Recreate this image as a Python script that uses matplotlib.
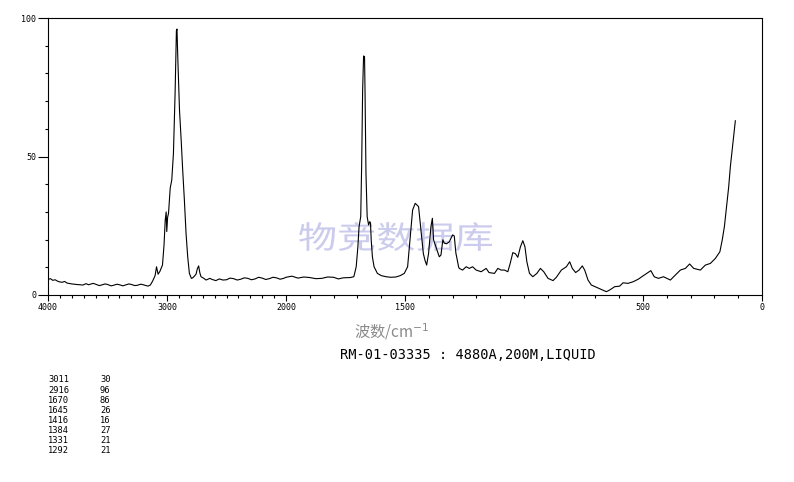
import matplotlib
matplotlib.use("Agg")
import matplotlib.pyplot as plt
import numpy as np
from matplotlib.font_manager import FontProperties
from matplotlib.patches import PathPatch
from matplotlib.textpath import TextPath
from matplotlib.transforms import Affine2D


# Raman spectrum (wavenumber cm-1, relative intensity)
WAVENUMBER = [
    4000, 3980, 3960, 3940, 3920, 3900, 3880, 3860, 3840, 3800, 3760, 3707,
    3680, 3660, 3620, 3600, 3570, 3550, 3520, 3500, 3470, 3450, 3420, 3400,
    3370, 3350, 3320, 3300, 3270, 3250, 3220, 3200, 3160, 3140, 3121, 3100,
    3088, 3075, 3060, 3038, 3025, 3015, 3007, 3002, 2995, 2987, 2973, 2960,
    2946, 2932, 2921, 2916, 2910, 2895, 2881, 2868, 2854, 2840, 2826, 2812,
    2795, 2784, 2770, 2756, 2745, 2734, 2724, 2714, 2690, 2672, 2640, 2620,
    2590, 2560, 2530, 2500, 2470, 2440, 2410, 2380, 2350, 2320, 2290, 2260,
    2230, 2200, 2170, 2140, 2110, 2080, 2050, 2020, 2000, 1975, 1950, 1925,
    1900, 1875, 1850, 1825, 1800, 1780, 1760, 1730, 1715, 1705, 1698, 1693,
    1686, 1682, 1678, 1674, 1670, 1668, 1664, 1659, 1653, 1648, 1645, 1642,
    1637, 1630, 1616, 1600, 1580, 1560, 1538, 1520, 1503, 1489, 1479, 1468,
    1457, 1450, 1443, 1433, 1423, 1416, 1409, 1401, 1391, 1385, 1380, 1370,
    1356, 1349, 1341, 1335, 1325, 1314, 1300, 1293, 1286, 1283, 1275, 1272,
    1258, 1243, 1230, 1216, 1201, 1180, 1159, 1147, 1124, 1110, 1096, 1082,
    1068, 1058, 1047, 1036, 1026, 1015, 1005, 996, 988, 977, 963, 946,
    931, 917, 899, 878, 864, 843, 822, 808, 797, 783, 769, 755,
    745, 731, 717, 696, 675, 654, 640, 619, 598, 584, 563, 541,
    520, 505, 484, 467, 453, 435, 414, 385, 364, 343, 322, 304,
    287, 259, 238, 217, 196, 177, 167, 158, 149, 140, 133, 124,
    116, 112,
]
INTENSITY = [
    5.6, 5.9, 5.3, 5.5, 5.0, 4.7, 4.6, 4.9, 4.3, 4.0, 3.8, 3.6,
    4.1, 3.7, 4.2, 3.9, 3.4, 3.6, 4.0, 3.8, 3.3, 3.5, 3.9, 3.7,
    3.3, 3.6, 4.0, 3.8, 3.4, 3.5, 3.9, 3.7, 3.2, 3.6, 5.0, 7.0,
    10.2, 7.5, 8.5, 10.8, 18.0, 27.0, 30.0, 22.9, 28.0, 29.6, 38.6, 41.5,
    51.0, 72.8, 95.4, 96.0, 86.6, 66.8, 56.0, 45.0, 34.3, 22.3, 13.8, 7.8,
    6.0, 6.2, 6.8, 7.5, 9.5, 10.5, 8.0, 6.6, 6.0, 5.4, 6.0, 5.6,
    5.2, 5.8, 5.4, 5.5, 6.1, 5.9, 5.4, 5.7, 6.2, 6.0, 5.5, 5.8,
    6.4, 6.1, 5.6, 5.9, 6.4, 6.2, 5.7, 6.0, 6.4, 6.8, 6.1, 6.5,
    6.3, 5.9, 6.0, 6.5, 6.4, 5.8, 6.2, 6.3, 6.6, 10.2, 17.4, 24.7,
    28.3, 47.5, 74.0, 86.3, 86.0, 74.0, 44.0, 28.3, 25.3, 26.5, 26.0, 19.9,
    13.8, 10.2, 7.8, 7.0, 6.6, 6.4, 6.5, 7.0, 7.8, 10.2, 19.9, 30.7,
    33.1, 32.5, 31.9, 23.5, 15.0, 12.5, 10.8, 15.0, 24.7, 27.7, 19.9, 17.4,
    13.8, 14.4, 19.9, 18.7, 18.5, 19.2, 21.7, 21.3, 15.0, 13.8, 10.2, 9.6,
    9.0, 10.2, 9.6, 10.2, 9.0, 8.4, 9.6, 8.1, 7.8, 9.6, 9.0, 9.0,
    8.4, 11.4, 15.3, 14.9, 13.6, 17.4, 19.6, 17.4, 12.0, 7.8, 6.6, 7.8,
    9.6, 8.4, 6.0, 5.2, 6.4, 9.0, 10.2, 12.0, 9.6, 8.1, 9.0, 10.5,
    9.0, 5.4, 3.6, 2.8, 2.0, 1.2, 1.8, 3.0, 3.2, 4.4, 4.2, 4.8,
    5.7, 6.6, 7.8, 8.8, 6.6, 6.0, 6.6, 5.4, 7.2, 9.0, 9.6, 11.2,
    9.6, 9.0, 10.8, 11.4, 13.2, 15.6, 19.9, 24.7, 31.9, 39.0, 46.3, 53.5,
    59.6, 62.9,
]

X_MAJOR = [4000, 3000, 2000, 1500, 500, 0]
X_MAJOR_LABELS = ["4000", "3000", "2000", "1500", "500", "0"]
Y_MAJOR = [0, 50, 100]

PEAK_POS = ["3011", "2916", "1670", "1645", "1416", "1384", "1331", "1292"]
PEAK_INT = ["30", "96", "86", "26", "16", "27", "21", "21"]

TITLE = "RM-01-03335 : 4880A,200M,LIQUID"
WATERMARK = "物竞数据库"
MONO = "DejaVu Sans Mono"


def forward(x):
    # 4000-2000 drawn at half the scale of 2000-0
    x = np.asarray(x, dtype=float)
    return np.where(x > 2000, 2000 + (x - 2000) / 2, x)


def inverse(y):
    y = np.asarray(y, dtype=float)
    return np.where(y > 2000, 2000 + (y - 2000) * 2, y)


def add_watermark(fig):
    tp = TextPath((0, 0), WATERMARK, size=1,
                  prop=FontProperties(family="Noto Sans CJK SC"))
    ext = tp.get_extents()
    # target box in display pixels (origin bottom-left)
    x0, x1 = 299, 492
    y0, y1 = 482 - 251, 482 - 222
    sx = (x1 - x0) / ext.width
    sy = (y1 - y0) / ext.height
    tr = Affine2D().translate(-ext.x0, -ext.y0).scale(sx, sy).translate(x0, y0)
    patch = PathPatch(tr.transform_path(tp), facecolor="#cbcbee",
                      edgecolor="none", transform=None, zorder=-1)
    fig.patches.append(patch)


def main() -> None:
    fig = plt.figure(figsize=(7.94, 4.82), dpi=100)
    ax = fig.add_axes([48 / 794, 1 - 295 / 482, 714 / 794, 277 / 482])
    ax.set_facecolor("none")

    ax.set_xscale("function", functions=(forward, inverse))
    ax.plot(WAVENUMBER, INTENSITY, color="black", lw=0.8)
    ax.set_xlim(4000, 0)
    ax.set_ylim(0, 100)

    ax.set_xticks(X_MAJOR)
    ax.set_xticklabels(X_MAJOR_LABELS)
    ax.set_xticks(np.arange(0, 4001, 100), minor=True)
    ax.set_yticks(Y_MAJOR)
    ax.set_yticks(np.arange(0, 101, 10), minor=True)

    ax.tick_params(axis="x", which="major", length=4.5, width=0.8, pad=1,
                   labelsize=6, direction="out")
    ax.tick_params(axis="x", which="minor", length=2.2, width=0.8, direction="out")
    ax.tick_params(axis="y", which="major", length=7, width=0.8, pad=1.5,
                   labelsize=6, direction="out")
    ax.tick_params(axis="y", which="minor", length=2.2, width=0.8, direction="out")
    for lab in ax.get_xticklabels() + ax.get_yticklabels():
        lab.set_family(MONO)
    for sp in ax.spines.values():
        sp.set_linewidth(0.8)

    fig.text(392 / 794, 1 - 332 / 482, "波数/cm$^{-1}$", ha="center", va="center",
             fontsize=11, color="#8a8a8a",
             family=["Noto Sans CJK SC", "DejaVu Sans"])
    fig.text(340 / 794, 1 - 355 / 482, TITLE, ha="left", va="center",
             fontsize=9.8, family=MONO, color="black")

    for i, (pos, val) in enumerate(zip(PEAK_POS, PEAK_INT)):
        y = 1 - (380 + i * 10.1) / 482
        fig.text(48 / 794, y, pos, ha="left", va="center", fontsize=6.3, family=MONO)
        fig.text(100 / 794, y, val, ha="left", va="center", fontsize=6.3, family=MONO)

    add_watermark(fig)

    fig.savefig("out.png", dpi=100)
    plt.close(fig)


if __name__ == "__main__":
    main()
